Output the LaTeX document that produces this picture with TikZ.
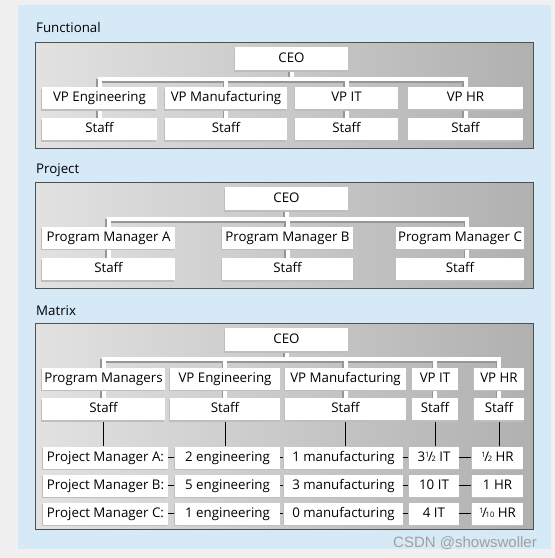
\documentclass[tikz,border=0pt]{standalone}
\usepackage{fontspec}
\setmainfont{Open Sans}
\newfontfamily\markfont{Liberation Sans}
\usetikzlibrary{shadows}
\definecolor{pagegray}{RGB}{240,240,240}
\definecolor{skyback}{RGB}{213,233,247}
\definecolor{panellight}{RGB}{226,226,226}
\definecolor{paneldark}{RGB}{176,176,176}
\definecolor{panelline}{RGB}{80,80,80}
\definecolor{wireshade}{RGB}{150,150,150}
\definecolor{boxshade}{RGB}{190,190,190}
\definecolor{markgray}{RGB}{160,160,160}
\newcommand{\smallfrac}[2]{\raisebox{.5ex}{\fontsize{7.5}{7.5}\selectfont#1}\kern-.1em/\kern-.1em{\fontsize{7.5}{7.5}\selectfont#2}}
\pgfdeclarelayer{panels}
\pgfdeclarelayer{wires}
\pgfsetlayers{panels,wires,main}

\begin{document}
\begin{tikzpicture}[
    x=1pt, y=-1pt,
    font=\fontsize{13.3}{15}\selectfont,
    unit/.style={rectangle, fill=white, inner sep=0pt, text height=0.71em, text depth=0pt, minimum height=22pt, minimum width=#1pt, drop shadow={shadow xshift=-1.5pt, shadow yshift=-1.5pt, fill=boxshade, opacity=1}},
    chief/.style={unit=#1, minimum height=23pt},
    panel/.style={draw=panelline, line width=0.8pt, left color=panellight, right color=paneldark},
    title/.style={anchor=base west, inner sep=0pt},
    wire/.style={draw=white, line width=4pt, line cap=rect, preaction={draw=wireshade, line width=4pt, line cap=rect, transform canvas={xshift=-1.5pt, yshift=-1.5pt}}},
    hair/.style={draw=black, line width=0.7pt},
    watermark/.style={anchor=base east, inner sep=0pt, text=markgray, font=\markfont\fontsize{15}{16}\selectfont},
]
\useasboundingbox (0,0) rectangle (555,558);

\begin{pgfonlayer}{panels}
\fill[pagegray] (0,0) rectangle (555,558);
\fill[skyback] (18,5) rectangle (551,549);
\path[panel] (35,42) rectangle (533,148);
\path[panel] (35,182) rectangle (533,288);
\path[panel] (35,323) rectangle (533,529);
\end{pgfonlayer}

\node[title] (tfun) at (36,32) {Functional};
\node[chief=113] (fceo) at (291.5,58.5) {CEO};
\node[unit=115] (fvpe) at (99.5,98) {VP Engineering};
\node[unit=122] (fvpm) at (226,98) {VP Manufacturing};
\node[unit=103] (fvpi) at (346.5,98) {VP IT};
\node[unit=115] (fvph) at (465.5,98) {VP HR};
\node[unit=115] (fste) at (99.5,129) {Staff};
\node[unit=122] (fstm) at (226,129) {Staff};
\node[unit=103] (fsti) at (346.5,129) {Staff};
\node[unit=115] (fsth) at (465.5,129) {Staff};
\coordinate (fbus) at (0,79);

\node[title] (tpro) at (36,173) {Project};
\node[chief=123] (pceo) at (286.5,198.5) {CEO};
\node[unit=133] (ppma) at (108.5,237.5) {Program Manager A};
\node[unit=131] (ppmb) at (287.5,237.5) {Program Manager B};
\node[unit=128] (ppmc) at (460,237.5) {Program Manager C};
\node[unit=133] (psta) at (108.5,269) {Staff};
\node[unit=131] (pstb) at (287.5,269) {Staff};
\node[unit=128] (pstc) at (460,269) {Staff};
\coordinate (pbus) at (0,219);

\node[title] (tmat) at (36,315) {Matrix};
\node[chief=123] (mceo) at (286.5,339.5) {CEO};
\node[unit=123] (mpgm) at (103.5,378.5) {Program Managers};
\node[unit=110] (mvpe) at (225,378.5) {VP Engineering};
\node[unit=121] (mvpm) at (345.5,378.5) {VP Manufacturing};
\node[unit=46] (mvpi) at (435,378.5) {VP IT};
\node[unit=50] (mvph) at (499,378.5) {VP HR};
\node[unit=123] (mstp) at (103.5,409) {Staff};
\node[unit=110] (mste) at (225,409) {Staff};
\node[unit=121] (mstm) at (345.5,409) {Staff};
\node[unit=46] (msti) at (435,409) {Staff};
\node[unit=50] (msth) at (499,409) {Staff};
\coordinate (mbus) at (0,359);

\node[unit=125] (ra1) at (105.5,457.5) {Project Manager A:};
\node[unit=105] (ra2) at (227.5,457.5) {2 engineering};
\node[unit=119] (ra3) at (343.5,457.5) {1 manufacturing};
\node[unit=50] (ra4) at (434,457.5) {3\smallfrac{1}{2} IT};
\node[unit=51] (ra5) at (497.5,457.5) {\smallfrac{1}{2} HR};
\node[unit=125] (rb1) at (105.5,485.5) {Project Manager B:};
\node[unit=105] (rb2) at (227.5,485.5) {5 engineering};
\node[unit=119] (rb3) at (343.5,485.5) {3 manufacturing};
\node[unit=50] (rb4) at (434,485.5) {10 IT};
\node[unit=51] (rb5) at (497.5,485.5) {1 HR};
\node[unit=125] (rc1) at (105.5,513.5) {Project Manager C:};
\node[unit=105] (rc2) at (227.5,513.5) {1 engineering};
\node[unit=119] (rc3) at (343.5,513.5) {0 manufacturing};
\node[unit=50] (rc4) at (434,513.5) {4 IT};
\node[unit=51] (rc5) at (497.5,513.5) {\smallfrac{1}{10} HR};

\begin{pgfonlayer}{wires}
\draw[wire] (fceo) -- (fceo |- fbus) (fvpe |- fbus) -- (fvph |- fbus)
    (fvpe |- fbus) -- (fste) (fvpm |- fbus) -- (fstm)
    (fvpi |- fbus) -- (fsti) (fvph |- fbus) -- (fsth);
\draw[wire] (pceo) -- (pceo |- pbus) (ppma |- pbus) -- ([xshift=7pt]ppmc.center |- pbus)
    (ppma |- pbus) -- (psta) (ppmb |- pbus) -- (pstb)
    ([xshift=7pt]ppmc.center |- pbus) -- ([xshift=7pt]pstc.north);
\draw[wire] (mceo) -- (mceo |- mbus) (mpgm |- mbus) -- (mvph |- mbus)
    (mpgm |- mbus) -- (mstp) (mvpe |- mbus) -- (mste) (mvpm |- mbus) -- (mstm)
    (mvpi |- mbus) -- (msti) (mvph |- mbus) -- (msth);
\draw[hair] (mstp) -- (mstp |- ra1.north);
\draw[hair] (mste) -- (mste |- ra2.north);
\draw[hair] (mstm) -- (mstm |- ra3.north);
\draw[hair] (msti) -- (msti |- ra4.north);
\draw[hair] (msth) -- (msth |- ra5.north);
\draw[hair] (ra1) -- (ra5);
\draw[hair] (rb1) -- (rb5);
\draw[hair] (rc1) -- (rc5);
\end{pgfonlayer}

\node[watermark] (wmark) at (537,547) {CSDN @showswoller};

\end{tikzpicture}
\end{document}
